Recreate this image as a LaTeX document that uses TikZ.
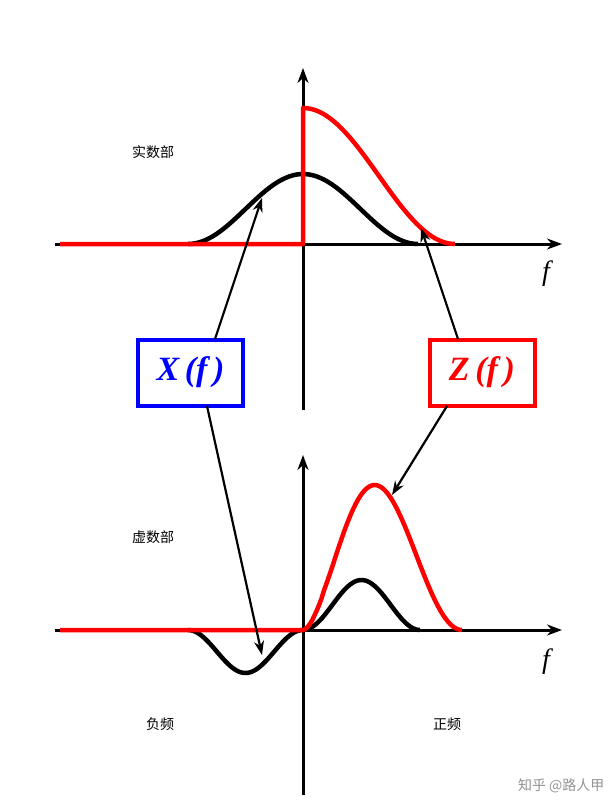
\documentclass[tikz,border=0pt]{standalone}
\usepackage{fontspec}
\newfontfamily\cjk{Noto Sans CJK SC}
\newfontfamily\tms{Liberation Serif}
\usetikzlibrary{arrows.meta}
\begin{document}
\begin{tikzpicture}[x=1pt,y=-1pt,
  ax/.style={line width=3pt,-{Stealth[length=15pt,width=11pt]}},
  blk/.style={line width=4.5pt,black,line join=round},
  rd/.style={line width=4.5pt,red,line join=round},
  ptr/.style={line width=2.2pt,-{Stealth[length=14pt,width=10pt]}},
  lbl/.style={font=\cjk\fontsize{14}{16}\selectfont},
  fbox/.style={line width=4pt,minimum width=105pt,minimum height=66pt,inner sep=0pt,font=\tms\fontsize{34}{38}\selectfont\bfseries\itshape}]
\useasboundingbox (0,0) rectangle (616,812);
% upper axes
\coordinate (uxs) at (55,244); \coordinate (uxe) at (562,244);
\coordinate (uys) at (303,410); \coordinate (uye) at (303,68);
\draw[ax] (uxs) -- (uxe);
\draw[ax] (uys) -- (uye);
\draw[blk] plot[variable=\t,domain=-1:1,samples=60] ({303+115*\t},{244-35*(1+cos(180*\t))});
\draw[rd] (60,244) -- (303,244) -- (303,108) -- plot[variable=\t,domain=0:1,samples=60] ({303+152*\t},{244-68*(1+cos(180*\t))});
\node[font=\tms\fontsize{28}{30}\selectfont\itshape] (f1) at (546,274) {f};
\node[lbl] (re) at (153,152) {实数部};
% lower axes
\coordinate (lxs) at (55,630); \coordinate (lxe) at (562,630);
\coordinate (lys) at (303,795); \coordinate (lye) at (303,455);
\draw[ax] (lxs) -- (lxe);
\draw[ax] (lys) -- (lye);
\draw[blk] plot[variable=\t,domain=0:1,samples=50] ({188+115*\t},{630+21.5*(1-cos(360*\t))})
  -- plot[variable=\t,domain=0:1,samples=50] ({303+117*\t},{630-25*(1-cos(360*\t))});
\draw[rd] (60,630) -- (303,630) -- plot[variable=\t,domain=0:1,samples=70] ({303+159*\t},{630-145*(sin(180*\t^0.87))^2});
\node[font=\tms\fontsize{28}{30}\selectfont\itshape] (f2) at (546,662) {f};
\node[lbl] (im) at (153,537) {虚数部};
\node[lbl] (neg) at (160,724) {负频};
\node[lbl] (pos) at (447,724) {正频};
% boxes
\node[fbox,draw=blue,text=blue] (X) at (190.5,372.5) {X\,(f\,)};
\node[fbox,draw=red,text=red] (Z) at (482,372.5) {Z\,(f\,)};
\coordinate (a1) at (262,198); \coordinate (a2) at (262,655);
\coordinate (a3) at (421,228); \coordinate (a4) at (392,495);
\draw[ptr] (215,339) -- (a1);
\draw[ptr] (207,406) -- (a2);
\draw[ptr] (458,339) -- (a3);
\draw[ptr] (447,406) -- (a4);
\node[lbl,text=gray!85,anchor=east] (wm) at (608,786) {知乎 @路人甲};
\end{tikzpicture}
\end{document}
